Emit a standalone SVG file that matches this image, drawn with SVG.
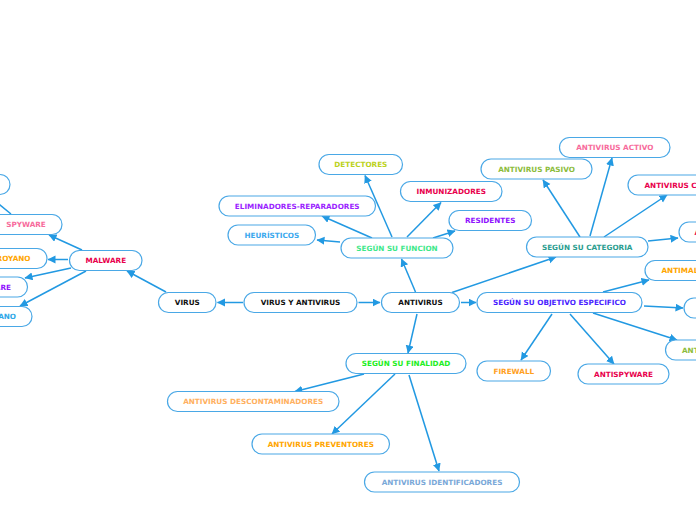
<svg xmlns="http://www.w3.org/2000/svg" width="696" height="520" viewBox="0 0 696 520">
<style>
.n rect{fill:#fff;stroke:#4aa8e6;stroke-width:1.2}
.n text{font-family:"DejaVu Sans",Verdana,sans-serif;font-weight:700;font-size:7.25px;text-anchor:middle}
#connectors line{stroke:#2299e2;stroke-width:1.5;marker-end:url(#a)}
</style>
<defs><marker id="a" markerUnits="userSpaceOnUse" markerWidth="9" markerHeight="9" refX="7.5" refY="4" orient="auto"><path d="M0 0L8 4L0 8z" fill="#2299e2"/></marker></defs>
<rect width="696" height="520" fill="#fff"/>
<g id="connectors">
<line x1="166" y1="292" x2="127" y2="271"/>
<line x1="243" y1="302.5" x2="217.5" y2="302.5"/>
<line x1="358.5" y1="302.5" x2="380" y2="302.5"/>
<line x1="415.5" y1="292" x2="401.500" y2="259"/>
<line x1="452" y1="292.500" x2="556" y2="257"/>
<line x1="461" y1="302.500" x2="476" y2="302.500"/>
<line x1="417" y1="314" x2="408" y2="353"/>
<line x1="392" y1="237" x2="365" y2="175.500"/>
<line x1="407" y1="237" x2="441" y2="202.500"/>
<line x1="433" y1="238" x2="455" y2="231"/>
<line x1="372" y1="238" x2="322" y2="216"/>
<line x1="340" y1="242" x2="317" y2="240"/>
<line x1="580" y1="237" x2="543" y2="180"/>
<line x1="590" y1="236" x2="612" y2="158"/>
<line x1="604" y1="237" x2="667" y2="195"/>
<line x1="648" y1="241" x2="678" y2="238"/>
<line x1="603" y1="292" x2="649" y2="280"/>
<line x1="644" y1="306" x2="683" y2="308"/>
<line x1="593" y1="313" x2="677" y2="340"/>
<line x1="552" y1="314" x2="521" y2="360"/>
<line x1="570" y1="314" x2="614" y2="364"/>
<line x1="364" y1="374" x2="295" y2="391.500"/>
<line x1="395" y1="374" x2="332" y2="434"/>
<line x1="409" y1="375" x2="439" y2="471"/>
<line x1="82" y1="250" x2="49" y2="235"/>
<line x1="68" y1="259.500" x2="48" y2="259.500"/>
<line x1="71" y1="268" x2="25" y2="278"/>
<line x1="86" y1="271" x2="20" y2="306"/>
<line x1="11" y1="214" x2="-12" y2="195"/>
</g>
<g id="virus-antivirus" class="n"><rect x="244" y="292.500" width="113" height="20" rx="10"/><text x="300.500" y="305.200" fill="#111">VIRUS Y ANTIVIRUS</text></g>
<g id="virus" class="n"><rect x="158.500" y="292.500" width="57.500" height="20" rx="10"/><text x="187.300" y="305.200" fill="#111">VIRUS</text></g>
<g id="malware" class="n"><rect x="69.500" y="250.500" width="72.500" height="20" rx="10"/><text x="105.800" y="263.200" fill="#e8004c">MALWARE</text></g>
<g id="top-left" class="n"><rect x="-40" y="174.500" width="50" height="20" rx="10"/></g>
<g id="spyware" class="n"><rect x="-10" y="214.500" width="72" height="20" rx="10"/><text x="26" y="227.200" fill="#f76b9c">SPYWARE</text></g>
<g id="troyano" class="n"><rect x="-40" y="248.500" width="87" height="20" rx="10"/><text x="30.500" y="261.200" fill="#ffa500" style="text-anchor:end">TROYANO</text></g>
<g id="ware" class="n"><rect x="-40" y="277" width="67.500" height="20" rx="10"/><text x="11" y="289.700" fill="#9013fe" style="text-anchor:end">WARE</text></g>
<g id="gusano" class="n"><rect x="-40" y="306.500" width="72" height="20" rx="10"/><text x="16" y="319.200" fill="#2ea8e8" style="text-anchor:end">GUSANO</text></g>
<g id="antivirus" class="n"><rect x="381.500" y="292.500" width="78" height="20" rx="10"/><text x="420.500" y="305.200" fill="#111">ANTIVIRUS</text></g>
<g id="funcion" class="n"><rect x="341" y="238" width="112" height="20" rx="10"/><text x="397" y="250.700" fill="#3ee88a">SEGÚN SU FUNCION</text></g>
<g id="detectores" class="n"><rect x="319" y="154.500" width="83.500" height="20" rx="10"/><text x="360.800" y="167.200" fill="#bcd21c">DETECTORES</text></g>
<g id="inmunizadores" class="n"><rect x="400.500" y="181.500" width="101.500" height="20" rx="10"/><text x="451.200" y="194.200" fill="#e8004c">INMUNIZADORES</text></g>
<g id="residentes" class="n"><rect x="449" y="210.500" width="82.500" height="20" rx="10"/><text x="490.200" y="223.200" fill="#9013fe">RESIDENTES</text></g>
<g id="eliminadores" class="n"><rect x="219" y="196" width="156.500" height="20" rx="10"/><text x="297.200" y="208.700" fill="#9b1fff">ELIMINADORES-REPARADORES</text></g>
<g id="heuristicos" class="n"><rect x="228" y="225" width="87.500" height="20" rx="10"/><text x="271.800" y="237.700" fill="#3aa8ee">HEURÍSTICOS</text></g>
<g id="categoria" class="n"><rect x="526.500" y="237" width="121.500" height="20" rx="10"/><text x="587.200" y="249.700" fill="#2a9d8f">SEGÚN SU CATEGORIA</text></g>
<g id="activo" class="n"><rect x="559.500" y="137.500" width="110.500" height="20" rx="10"/><text x="614.800" y="150.200" fill="#f76b9c">ANTIVIRUS ACTIVO</text></g>
<g id="pasivo" class="n"><rect x="481" y="159" width="111" height="20" rx="10"/><text x="536.500" y="171.700" fill="#8cbc3c">ANTIVIRUS PASIVO</text></g>
<g id="antivirus-c" class="n"><rect x="628" y="175" width="110" height="20" rx="10"/><text x="644.500" y="187.700" fill="#e8004c" style="text-anchor:start">ANTIVIRUS C</text></g>
<g id="cat-4" class="n"><rect x="679" y="222" width="60" height="20" rx="10"/><text x="694.500" y="234.700" fill="#e8004c" style="text-anchor:start">A</text></g>
<g id="objetivo" class="n"><rect x="477" y="292.500" width="165" height="20" rx="10"/><text x="559.500" y="305.200" fill="#4a1fff">SEGÚN SU OBJETIVO ESPECIFICO</text></g>
<g id="antimalware" class="n"><rect x="645" y="260.500" width="90" height="20" rx="10"/><text x="661.500" y="273.200" fill="#ffa500" style="text-anchor:start">ANTIMAL</text></g>
<g id="obj-2" class="n"><rect x="684" y="298" width="60" height="20" rx="10"/></g>
<g id="ant" class="n"><rect x="665.500" y="340" width="80" height="20" rx="10"/><text x="682" y="352.700" fill="#8cbc3c" style="text-anchor:start">ANT</text></g>
<g id="firewall" class="n"><rect x="477" y="361" width="73.500" height="20" rx="10"/><text x="513.800" y="373.700" fill="#ffa01e">FIREWALL</text></g>
<g id="antispyware" class="n"><rect x="578" y="364" width="91" height="20" rx="10"/><text x="623.500" y="376.700" fill="#e8004c">ANTISPYWARE</text></g>
<g id="finalidad" class="n"><rect x="346" y="353.500" width="120" height="20" rx="10"/><text x="406" y="366.200" fill="#22ee22">SEGÚN SU FINALIDAD</text></g>
<g id="descontaminadores" class="n"><rect x="167.500" y="391.500" width="171.500" height="20" rx="10"/><text x="253.200" y="404.200" fill="#ffb060">ANTIVIRUS DESCONTAMINADORES</text></g>
<g id="preventores" class="n"><rect x="252" y="434" width="137.500" height="20" rx="10"/><text x="320.800" y="446.700" fill="#ffa500">ANTIVIRUS PREVENTORES</text></g>
<g id="identificadores" class="n"><rect x="364.500" y="472" width="155" height="20" rx="10"/><text x="442" y="484.700" fill="#7aa8d8">ANTIVIRUS IDENTIFICADORES</text></g>
</svg>
